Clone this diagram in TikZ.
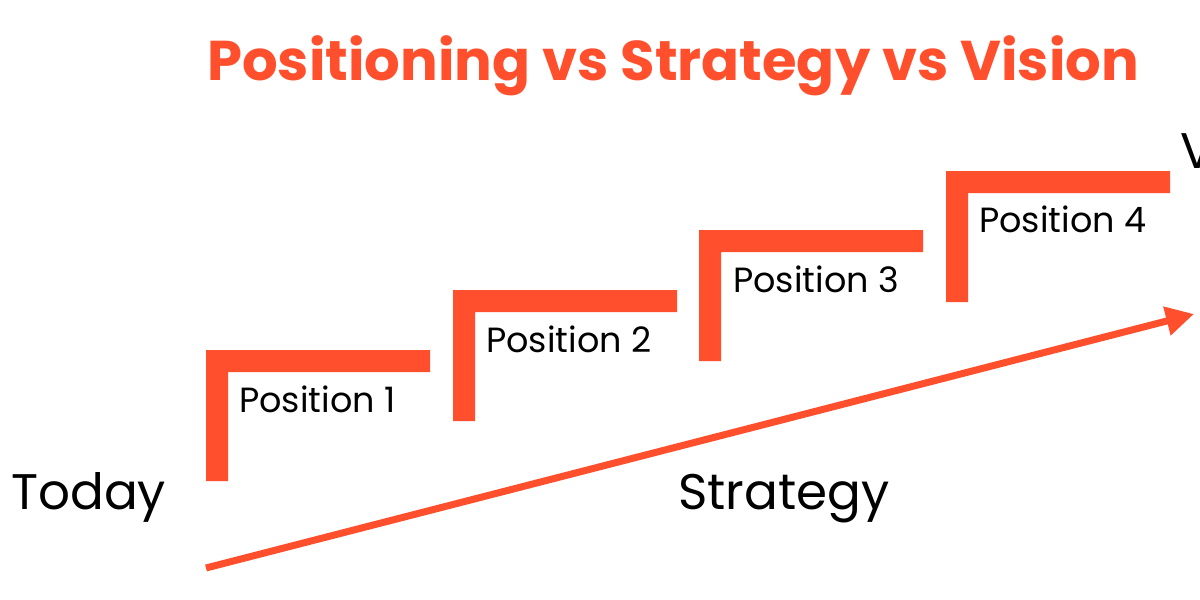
\documentclass[tikz,border=0pt]{standalone}
\usepackage{fontspec}
\setmainfont{Poppins}
\usetikzlibrary{arrows.meta}
\definecolor{accent}{HTML}{FF4F2C}
\begin{document}
\begin{tikzpicture}[x=1pt,y=-1pt,
  stepshape/.style={fill=accent,draw=none},
  poslabel/.style={anchor=base west,inner sep=0pt,font=\fontsize{35}{42}\selectfont,text=black},
  biglabel/.style={anchor=base west,inner sep=0pt,font=\fontsize{50}{60}\selectfont,text=black}]
\useasboundingbox[fill=white] (0,0) rectangle (1200,600);
% title
\node[anchor=base west,inner sep=0pt,text=accent,font=\fontsize{56}{64}\selectfont\bfseries] (title) at (207,80) {Positioning vs Strategy vs Vision};
% steps
\foreach \i/\x/\y in {1/206/350,2/453/290,3/699/230,4/946/171}{
  \fill[stepshape] (\x,\y) -- ++(224,0) -- ++(0,22) -- ++(-202,0) -- ++(0,109) -- ++(-22,0) -- cycle;
}
\node[poslabel] (p1) at (239,412) {Position 1};
\node[poslabel] (p2) at (486,352) {Position 2};
\node[poslabel] (p3) at (733,292) {Position 3};
\node[poslabel] (p4) at (979,232) {Position 4};
\node[biglabel] (today) at (11,509) {Today};
\node[biglabel] (strategy) at (678,509) {Strategy};
\node[biglabel] (vision) at (1180,168) {Vision};
% arrow
\coordinate (a0) at (206,568);
\coordinate (a1) at (1194,314);
\draw[accent,line width=7pt,-{Triangle[length=28pt,width=28pt]}] (a0) -- (a1);
\end{tikzpicture}
\end{document}
